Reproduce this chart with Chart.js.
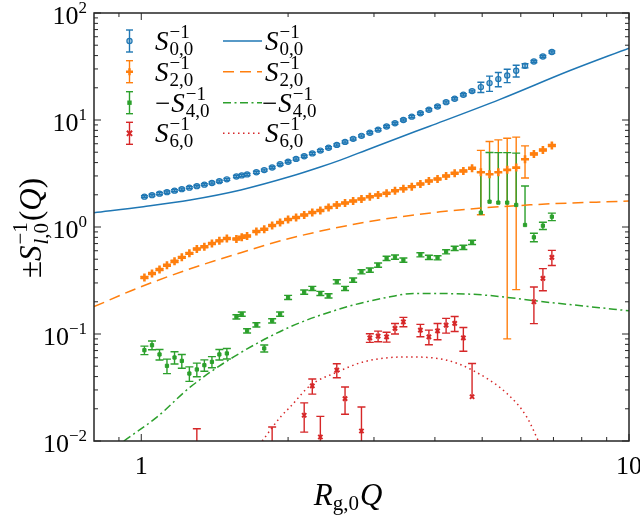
<!DOCTYPE html>
<html><head><meta charset="utf-8">
<script src="https://cdn.jsdelivr.net/npm/chart.js@4/dist/chart.umd.min.js"></script>
<style>html,body{margin:0;padding:0;background:#fff}#wrap{width:640px;height:516px;position:relative}</style>
</head><body><div id="wrap"><canvas id="c"></canvas></div>
<script>
// ---------------- data ----------------
const Q = [1.015,1.052,1.090,1.129,1.170,1.211,1.255,1.300,1.347,1.396,1.446,1.498,
  1.567,1.607,1.648,
  1.722,1.787,1.855,1.926,2.000,2.077,2.158,2.242,2.329,2.421,2.517,2.617,2.719,2.828,2.942,3.059,
  3.184,3.313,3.447,3.586,3.735,3.888,4.050,4.217,4.391,4.575,4.767,4.969,5.177,5.396,5.627,5.871,
  6.121,6.383,6.660,6.948];

const S00 = [1.921,1.984,2.049,2.117,2.186,2.258,2.332,2.409,2.488,2.581,2.683,2.789,
  2.969,3.034,3.100,
  3.244,3.401,3.596,3.854,4.076,4.329,4.589,4.874,5.177,5.511,5.852,6.244,6.662,7.108,7.597,8.122,
  8.703,9.324,10.01,10.75,11.57,12.45,13.36,14.69,15.78,17.20,18.62,20.30,22.13,24.12,26.06,28.84,
  32.13,35.24,39.26,43.15];
const S00err = [0.04,0.04,0.05,0.05,0.05,0.05,0.05,0.05,0.05,0.06,0.06,0.06,
  0.07,0.07,0.07,
  0.07,0.07,0.08,0.08,0.09,0.1,0.1,0.11,0.11,0.12,0.13,0.14,0.15,0.16,0.17,0.18,
  0.19,0.2,0.22,0.24,0.25,0.27,0.29,0.32,0.35,0.38,0.41,2.2,3.6,3.7,3.7,3.6,
  1.4,0.78,0.86,0.95];

const S20 = [0.3369,0.3671,0.4002,0.4381,0.4775,0.5205,0.5674,0.6223,0.6539,0.7007,0.7427,0.7804,
  0.7720,0.8010,0.8238,
  0.9077,0.9517,1.033,1.102,1.175,1.227,1.295,1.367,1.427,1.522,1.606,1.677,1.751,1.828,1.921,1.993,
  2.067,2.186,2.282,2.383,2.526,2.695,2.813,3.001,3.182,3.344,3.543,3.25,3.11,3.25,3.42,3.59,
  4.30,4.82,5.25,5.77];
const S20err = [0.008,0.008,0.009,0.01,0.011,0.011,0.012,0.014,0.014,0.015,0.016,0.017,
  0.017,0.018,0.018,
  0.02,0.021,0.023,0.024,0.026,0.027,0.028,0.03,0.031,0.033,0.035,0.037,0.038,0.04,0.042,0.044,
  0.045,0.048,0.05,0.052,0.055,0.059,0.062,0.066,0.07,0.073,0.078,1.95,3.18,3.27,3.33,3.33,
  1.43,0.11,0.12,0.13];

const S40neg = [0.0706,0.0786,0.0644,0.0504,0.0603,0.0561,0.0427,0.0466,0.0511,0.0549,0.0644,0.0658,
  0.1447,0.1534,0.1070,
  0.1218,0.0733,0.1328,0.1534,0.2198,null,0.2464,0.2668,0.2396,0.2275,0.3076,0.2668,0.3192,0.3817,0.3960,0.4410,
  0.5095,0.5238,0.4910,null,0.5502,0.5205,0.5160,0.5871,0.6318,0.6456,0.7189,1.361,1.725,1.69,1.69,1.607,
  1.044,0.801,1.029,1.248];
const S40err = [0.0064,0.0074,0.0073,0.0078,0.0079,0.0082,0.0066,0.0068,0.0062,0.0066,0.0073,0.0075,
  0.0065,0.0069,0.0048,
  0.0055,0.0055,0.006,0.0069,0.0099,null,0.011,0.012,0.0108,0.0102,0.0138,0.012,0.0144,0.0172,0.0178,0.0198,
  0.0229,0.0236,0.0221,null,0.0248,0.0234,0.0232,0.0264,0.0284,0.029,0.0324,1.89,3.24,3.27,3.27,3.30,
  1.37,0.072,0.08,0.1];

const S60 = [null,null,null,null,null,null,null,0.006,null,null,null,null,
  null,null,null,
  null,null,0.008,null,null,null,0.0174,0.0327,0.0109,null,0.0459,0.0249,null,0.0124,0.0920,0.0955,
  0.0940,0.1127,0.1299,null,0.1086,0.0940,0.1070,0.1210,0.1255,0.0920,0.0259,null,null,null,null,null,
  null,0.200,0.331,0.5205];
const S60err = [null,null,null,null,null,null,null,0.007,null,null,null,null,
  null,null,null,
  null,null,0.0055,null,null,null,0.0053,0.0053,0.0061,null,0.0069,0.0071,null,0.0084,0.0085,0.0108,
  0.010,0.0128,0.013,null,0.0143,0.0146,0.0185,0.019,0.020,0.023,0.0271,null,null,null,null,null,
  null,0.075,0.077,0.084];

// theory curves
const thQ00 = [0.8,1.01,1.26,1.6,2.02,2.328,2.559,2.9,3.395,3.9,5.44,7.57,10];
const th00  = [1.36,1.55,1.79,2.22,2.96,3.636,4.22,5.25,6.91,8.75,15.6,29.0,47.0];
const thQ20 = [0.8,0.98,1.26,1.6,2.02,2.88,4.1,6.27,10];
const th20  = [0.18,0.267,0.407,0.575,0.785,1.107,1.385,1.61,1.75];
const thQ40 = [0.921,1.078,1.261,1.547,2.021,2.641,3.238,3.615,4.725,6.89,10];
const th40  = [0.01,0.0168,0.032,0.0611,0.1167,0.1795,0.2227,0.2396,0.2355,0.197,0.1647];
const thQ60 = [1.77,1.93,2.02,2.22,2.52,2.86,3.5,4.23,4.77,5.62,6.17,6.52];
const th60  = [0.01,0.0168,0.0208,0.033,0.044,0.055,0.0611,0.0569,0.046,0.0278,0.0168,0.01];

// axis ticks
const xMajor = [1,10];
const xMajorLabels = ['1','10'];
const xMinor = [0.9,2,3,4,5,6,7,8,9];
const yMajor = [0.01,0.1,1,10,100];
const yMajorExp = ['\u22122','\u22121','0','1','2'];
const yMinorMult = [2,3,4,5,6,7,8,9];

// ---------------- styling ----------------
const COL = {blue:'#1f77b4', orange:'#ff7f0e', green:'#2ca02c', red:'#d62728'};
const AX = '#262626';
const SER = '"Liberation Serif","Times New Roman",serif';
const IT = 'italic 27px ' + SER, RM = '27px ' + SER, SM = '19px ' + SER, SMI = 'italic 19px ' + SER;
const ITL = 'italic 31px ' + SER, RML = '31px ' + SER, SML = '21px ' + SER, SMIL = 'italic 21px ' + SER;

function pts(xs, ys){ const d=[]; xs.forEach((x,i)=>{ if(ys[i]!=null) d.push({x:x,y:ys[i]}); }); return d; }
function errs(ys, es){ const d=[]; ys.forEach((y,i)=>{ if(y!=null) d.push(es[i]); }); return d; }

function rich(ctx, parts, x, y, align){
  let w=0;
  for(const p of parts){ ctx.font=p.f; p.w=(p.adv===false?0:ctx.measureText(p.t).width)+(p.gap||0); w+=p.w; }
  let cx = align==='center'? x-w/2 : (align==='right'? x-w : x);
  ctx.textAlign='left'; ctx.textBaseline='alphabetic';
  for(const p of parts){ ctx.font=p.f; ctx.fillText(p.t, cx+(p.dx||0), y+(p.dy||0)); cx+=p.w; }
}

function marker(ctx, kind, x, y, color){
  ctx.save(); ctx.fillStyle=color; ctx.strokeStyle=color;
  if(kind==='circle'){ ctx.lineWidth=1.2; ctx.fillStyle='rgba(31,119,180,0.35)'; ctx.beginPath(); ctx.arc(x,y,2.6,0,Math.PI*2); ctx.fill(); ctx.stroke(); }
  else if(kind==='plus'){ ctx.lineWidth=2.4; ctx.beginPath(); ctx.moveTo(x-3.5,y); ctx.lineTo(x+3.5,y); ctx.moveTo(x,y-3.5); ctx.lineTo(x,y+3.5); ctx.stroke(); }
  else if(kind==='square'){ ctx.fillRect(x-2.2,y-2.2,4.4,4.4); }
  else if(kind==='x'){ ctx.lineWidth=2; ctx.beginPath(); ctx.moveTo(x-2.6,y-2.6); ctx.lineTo(x+2.6,y+2.6); ctx.moveTo(x+2.6,y-2.6); ctx.lineTo(x-2.6,y+2.6); ctx.stroke(); }
  ctx.restore();
}

const errorBars = {
  id:'errorBars',
  beforeDatasetsDraw(chart){
    const ctx=chart.ctx, a=chart.chartArea, ys=chart.scales.y, xs=chart.scales.x;
    ctx.save(); ctx.beginPath(); ctx.rect(a.left,a.top,a.right-a.left,a.bottom-a.top); ctx.clip();
    chart.data.datasets.forEach(ds=>{
      if(!ds.errs) return;
      ctx.strokeStyle=ds.borderColor; ctx.lineWidth=1.4;
      ds.data.forEach((p,i)=>{
        const e=ds.errs[i]; if(e==null) return;
        const px=xs.getPixelForValue(p.x);
        const hi=ys.getPixelForValue(p.y+e);
        const lowVal=p.y-e;
        const lo= lowVal>0 ? ys.getPixelForValue(lowVal) : ys.getPixelForValue(p.y);
        const cw=ds.capW||3.5;
        ctx.beginPath();
        ctx.moveTo(px,hi); ctx.lineTo(px,lo);
        ctx.moveTo(px-cw,hi); ctx.lineTo(px+cw,hi);
        if(lowVal>0){ ctx.moveTo(px-cw,lo); ctx.lineTo(px+cw,lo); }
        ctx.stroke();
      });
    });
    ctx.restore();
  }
};

const decor = {
  id:'decor',
  afterDraw(chart){
    const ctx=chart.ctx, a=chart.chartArea, xs=chart.scales.x, ys=chart.scales.y;
    ctx.save();
    ctx.strokeStyle=AX; ctx.lineWidth=1;
    const L=(x1,y1,x2,y2)=>{ctx.beginPath();ctx.moveTo(x1,y1);ctx.lineTo(x2,y2);ctx.stroke();};
    const xt=(v,len)=>{const p=xs.getPixelForValue(v); L(p,a.bottom,p,a.bottom-len); L(p,a.top,p,a.top+len);};
    const yt=(v,len)=>{const p=ys.getPixelForValue(v); L(a.left,p,a.left+len,p); L(a.right,p,a.right-len,p);};
    xMajor.forEach(v=>xt(v,7)); xMinor.forEach(v=>xt(v,4));
    yMajor.forEach(v=>yt(v,7));
    yMajor.slice(0,-1).forEach(d=>yMinorMult.forEach(m=>yt(d*m,4)));
    ctx.lineWidth=1.5; ctx.strokeRect(a.left,a.top,a.right-a.left,a.bottom-a.top);
    ctx.fillStyle='#000';
    // y tick labels
    yMajor.forEach((v,i)=>{
      const p=ys.getPixelForValue(v);
      rich(ctx,[{t:'10',f:'26px '+SER},{t:yMajorExp[i],f:'17px '+SER,dy:-11,gap:0}],87,p+11,'right');
    });
    // x tick labels
    xMajor.forEach((v,i)=>{
      const p=xs.getPixelForValue(v);
      rich(ctx,[{t:xMajorLabels[i],f:'26px '+SER}],p,474,'center');
    });
    // x axis title
    rich(ctx,[{t:'R',f:ITL},{t:'g,0',f:SML,dy:5,gap:1},{t:'Q',f:ITL}],348,505,'center');
    // y axis title
    ctx.save(); ctx.translate(31,228); ctx.rotate(-Math.PI/2);
    rich(ctx,[{t:'\u00b1',f:RML},{t:'S',f:ITL,gap:1},{t:'\u22121',f:SML,dy:-14,adv:false},{t:'l',f:SMIL,dy:7},{t:',0',f:SML,dy:7,gap:2},{t:'(',f:RML},{t:'Q',f:ITL},{t:')',f:RML}],0,10,'center');
    ctx.restore();
    // legend
    const rows=[41,71.7,102.7,133.3];
    const kinds=['circle','plus','square','x'];
    const cols=[COL.blue,COL.orange,COL.green,COL.red];
    const subs=['0,0','2,0','4,0','6,0'];
    const dashes=[[],[11,6],[8,3.5,2,3.5],[1.5,3.5]];
    rows.forEach((ry,i)=>{
      ctx.strokeStyle=cols[i]; ctx.lineWidth=1.4;
      L(129.5,ry-11,129.5,ry+11); L(126,ry-11,133,ry-11); L(126,ry+11,133,ry+11);
      marker(ctx,kinds[i],129.5,ry,cols[i]);
      ctx.save(); ctx.strokeStyle=cols[i]; ctx.lineWidth=1.5; ctx.setLineDash(dashes[i]); L(223,ry,262,ry); ctx.restore();
      ctx.fillStyle='#000';
      const neg = i===2;
      const mk=()=>{ const arr=[]; if(neg) arr.push({t:'\u2212',f:RM,gap:1}); arr.push({t:'S',f:IT,gap:1},{t:'\u22121',f:SM,dy:-12,adv:false},{t:subs[i],f:SM,dy:5}); return arr; };
      rich(ctx,mk(),155,ry+9,'left');
      rich(ctx,mk(),neg?262:265,ry+9,'left');
    });
    ctx.restore();
  }
};

const lineDs = (xs,ys,color,dash)=>({data:pts(xs,ys),showLine:true,borderColor:color,borderWidth:1.5,borderDash:dash,pointRadius:0,cubicInterpolationMode:'monotone',fill:false});

new Chart(document.getElementById('c'),{
  type:'scatter',
  data:{datasets:[
    {data:pts(Q,S00),errs:errs(S00,S00err),borderColor:COL.blue,backgroundColor:'rgba(31,119,180,0.35)',pointStyle:'circle',pointRadius:2.6,borderWidth:1.2,capW:3.5},
    {data:pts(Q,S20),errs:errs(S20,S20err),borderColor:COL.orange,backgroundColor:COL.orange,pointStyle:'cross',pointRadius:4,borderWidth:2.6,capW:4},
    {data:pts(Q,S40neg),errs:errs(S40neg,S40err),borderColor:COL.green,backgroundColor:COL.green,pointStyle:'rect',pointRadius:2.3,borderWidth:1,capW:4},
    {data:pts(Q,S60),errs:errs(S60,S60err),borderColor:COL.red,backgroundColor:COL.red,pointStyle:'crossRot',pointRadius:3,borderWidth:2,capW:4},
    lineDs(thQ00,th00,COL.blue,[]),
    lineDs(thQ20,th20,COL.orange,[11,6]),
    lineDs(thQ40,th40,COL.green,[8,3.5,2,3.5]),
    lineDs(thQ60,th60,COL.red,[1.5,3.5])
  ]},
  options:{
    responsive:true, maintainAspectRatio:false, animation:false, devicePixelRatio:1, events:[],
    layout:{padding:{left:0,right:11,top:13,bottom:0}},
    plugins:{legend:{display:false},tooltip:{enabled:false},title:{display:false}},
    scales:{
      x:{type:'logarithmic',min:0.8,max:10,ticks:{display:false},grid:{display:false},border:{display:false},afterFit(s){s.height=75;}},
      y:{type:'logarithmic',min:0.01,max:100,ticks:{display:false},grid:{display:false},border:{display:false},afterFit(s){s.width=94;}}
    }
  },
  plugins:[errorBars,decor]
});
</script></body></html>
